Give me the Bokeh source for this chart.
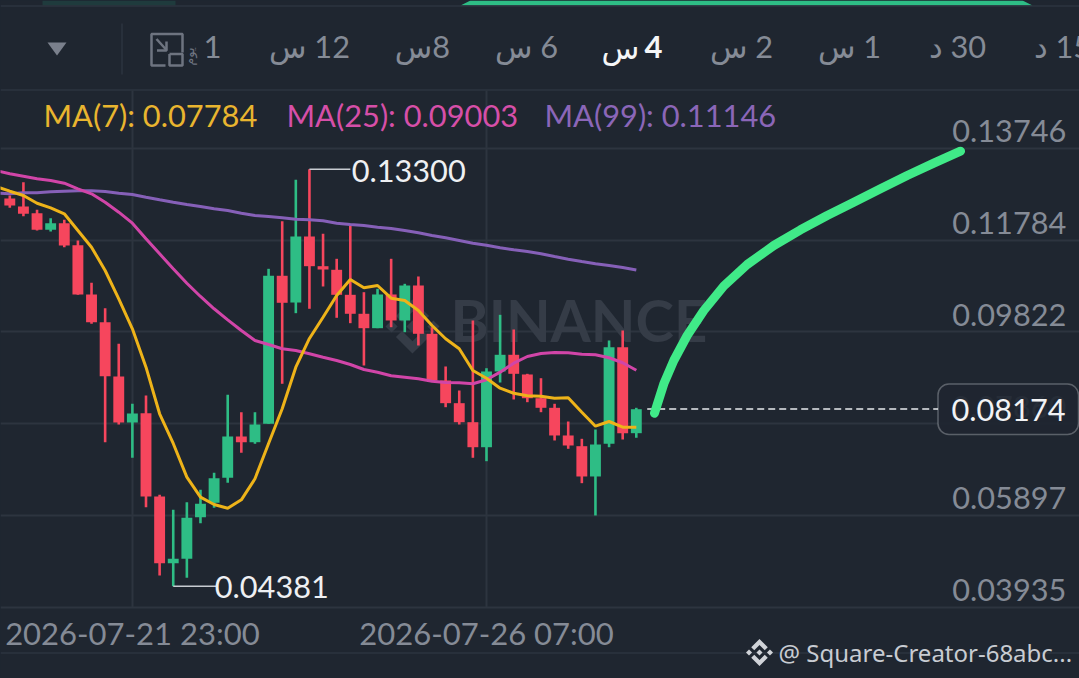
from math import pi
from bokeh.plotting import figure
from bokeh.embed import file_html
from bokeh.resources import INLINE
from bokeh.core.properties import value
from bokeh.models import (LinearAxis, FixedTicker, Grid, Range1d, BoxAnnotation,
                          NumeralTickFormatter, GlobalInlineStyleSheet)

# 4h candles (index 9 = 2026-07-21 23:00, index 35 = 2026-07-26 07:00)
opens = [.12677,.12506,.12363,.12008,.12149,.11678,.10624,.10031,.08870,.07886,.08085,.06303,.04876,.04970,.05860,.06168,.06703,.07586,.07464,.07858,.11024,.10452,.11864,.11229,
         .11152,.10617,.10211,.09903,.10624,.10068,.10816,.09783,.08784,.08299,.07892,.07357,.08977,.09334,.08913,.08405,.08200,.07608,.07379,.06731,.07430,.09496,.07657]
highs = [.12741,.13026,.12435,.12256,.12221,.11779,.10874,.10331,.09569,.08286,.08463,.06339,.06019,.06181,.06446,.06810,.08478,.08106,.08106,.11173,.12191,.13077,.13300,.11922,
         .11387,.12099,.10673,.10745,.11387,.10852,.11009,.09924,.09084,.08570,.10068,.09047,.10189,.09875,.08927,.08833,.08286,.07907,.07537,.07736,.09640,.09854,.08200]
lows = [.12478,.12298,.11993,.11971,.11635,.10620,.09997,.07464,.07843,.07131,.06074,.04613,.04381,.04564,.05732,.06061,.06596,.07238,.07430,.07858,.08714,.10224,.10318,.10795,
        .10125,.10010,.09105,.09903,.09924,.09817,.09533,.08784,.08213,.07843,.07131,.07058,.08741,.08378,.08320,.08106,.07501,.07323,.06588,.05897,.07357,.07522,.07559]
closes = [.12527,.12350,.12008,.12149,.11672,.10624,.10031,.08876,.07886,.08078,.06303,.04876,.04970,.05847,.06147,.06694,.07586,.07464,.07843,.11024,.10446,.11864,.11229,.11158,
          .10617,.10211,.09903,.10624,.10068,.10816,.09783,.08784,.08299,.07892,.07357,.08977,.09334,.08927,.08405,.08200,.07608,.07394,.06731,.07415,.09496,.07657,.08170]

# moving averages, first value is one candle before the first visible candle
ma7 = [.12934,.12833,.12741,.12576,.12478,.12350,.11993,.11635,.11137,.10532,.09890,.09069,.08072,.07437,.06716,.06288,.06132,.06053,.06232,.06682,.07437,.08179,.09069,.09683,.10138,
       .10602,.10944,.10767,.10816,.10544,.10495,.10281,.09961,.09676,.09462,.08998,.08833,.08619,.08512,.08457,.08448,.08405,.08414,.08106,.07807,.07907,.07785,.07784]
ma25 = [.13276,.13205,.13154,.13098,.13062,.13004,.12884,.12777,.12598,.12384,.12149,.11815,.11494,.11173,.10865,.10581,.10318,.10082,.09854,.09640,.09554,.09462,.09426,.09355,.09282,
        .09212,.09126,.09019,.08962,.08885,.08855,.08820,.08769,.08741,.08735,.08714,.08799,.08962,.09154,.09298,.09362,.09383,.09377,.09347,.09334,.09270,.09163,.09003]
ma99 = [.12795,.12777,.12799,.12799,.12820,.12833,.12842,.12842,.12827,.12790,.12763,.12705,.12649,.12598,.12549,.12506,.12457,.12420,.12363,.12313,.12292,.12264,.12234,.12221,.12200,
        .12149,.12121,.12099,.12063,.12035,.11993,.11943,.11886,.11836,.11779,.11721,.11678,.11622,.11580,.11543,.11494,.11436,.11379,.11329,.11280,.11244,.11201,.11146]

price_ticks = [0.03935, 0.05897, 0.07860, 0.09822, 0.11784, 0.13746]
date_ticks = {9: "2026-07-21 23:00", 35: "2026-07-26 07:00"}
last_price = 0.08174
hi_price, hi_idx = 0.13300, 22
lo_price, lo_idx = 0.04381, 12
legend = [("MA(7): 0.07784", 43, "#e9b52f"), ("MA(25): 0.09003", 286, "#d64fa8"), ("MA(99): 0.11146", 544, "#8b66b8")]
tabs = [("س\u200e 12", 309), ("س\u200e8", 422), ("س\u200e 6", 526), ("س\u200e 2", 741), ("س\u200e 1", 849), ("د\u200e 30", 957), ("د\u200e 15", 1062)]
arrow_x = [654, 663.3, 673.3, 686.7, 703.3, 723.3, 746.7, 773.3, 800, 826.7, 853.3, 880, 906.7, 933.3, 960]
arrow_y = [412.7, 383.3, 360, 335, 310, 285.5, 264, 245, 229.3, 215, 201.7, 188.3, 175, 162.7, 150.7]

BG = "#1f2630"
GRID = "#2d343f"
RED = "#f6465d"
GREEN = "#2ebd85"
LABEL = "#858b96"
FONT = "Lato, 'DejaVu Sans'"

# scale: 1 candle = 13.62 px, first candle at 9.3 px; 1 px = 0.00021389 in price
p = figure(width=1079, height=678, output_backend="svg", toolbar_location=None,
           x_axis_location=None, y_axis_location=None, min_border=0,
           x_range=Range1d(-0.683, 78.54), y_range=Range1d(0.02410, 0.16912),
           background_fill_color=BG, border_fill_color=BG, outline_line_color=None)
p.stylesheets = [GlobalInlineStyleSheet(css=f"html,body{{margin:0;background:{BG};overflow:hidden}}")]
p.grid.visible = False
p.extra_x_ranges["px"] = Range1d(0, 1079)
p.extra_y_ranges["px"] = Range1d(678, 0)
p.extra_y_ranges["lab"] = Range1d(0.02046, 0.16548)
PX = dict(x_range_name="px", y_range_name="px")

# grid and axes
p.add_layout(Grid(dimension=1, ticker=FixedTicker(ticks=price_ticks), grid_line_color=GRID, grid_line_width=2))
xa = LinearAxis(fixed_location=price_ticks[0], ticker=FixedTicker(ticks=list(date_ticks)),
                major_label_overrides=date_ticks, major_tick_in=517, major_tick_out=0,
                major_tick_line_color=GRID, major_tick_line_width=2, axis_line_color=None,
                minor_tick_line_color=None, major_label_standoff=7,
                major_label_text_font=FONT, major_label_text_font_size="31px",
                major_label_text_color=LABEL, major_label_text_font_style="normal")
xa.level = "underlay"
p.add_layout(xa, "below")
ya = LinearAxis(fixed_location=69.2, y_range_name="lab", ticker=FixedTicker(ticks=price_ticks),
                formatter=NumeralTickFormatter(format="0.00000"), major_tick_in=0, major_tick_out=0,
                axis_line_color=None, minor_tick_line_color=None, major_label_standoff=0,
                major_label_text_font=FONT, major_label_text_font_size="30.7px",
                major_label_text_color=LABEL)
p.add_layout(ya, "right")


def logo(cx, cy, size, color):
    s = size / 32
    parts = [[(9.8, 13.4), (16, 7.2), (22.2, 13.4), (25.8, 9.8), (16, 0), (6.2, 9.8)],
             [(0, 16), (3.6, 12.4), (7.2, 16), (3.6, 19.6)],
             [(12.4, 16), (16, 12.4), (19.6, 16), (16, 19.6)],
             [(24.8, 16), (28.4, 12.4), (32, 16), (28.4, 19.6)],
             [(22.2, 18.6), (16, 24.8), (9.8, 18.6), (6.2, 22.2), (16, 32), (25.8, 22.2)]]
    p.patches([[cx + (a - 16) * s for a, _ in q] for q in parts],
              [[cy + (b - 16) * s for _, b in q] for q in parts],
              fill_color=color, line_color=None, **PX)


def ptext(x, y, txt, size, color, align="left", font=FONT, style="normal", angle=0, level="glyph"):
    p.text([x], [y], text=[txt], text_font=value(font), text_font_size=f"{size}px", text_color=color,
           text_align=align, text_baseline="middle", text_font_style=style, angle=angle, level=level, **PX)


# watermark
logo(412, 326, 54, "#353c47")
ptext(450, 319, "BINANCE", 58, "#353c47", style="bold")

# candles
xs = list(range(len(opens)))
colors = [GREEN if c >= o else RED for o, c in zip(opens, closes)]
p.segment(xs, lows, xs, highs, line_color=colors, line_width=2.6)
p.vbar(x=xs, bottom=[min(o, c) for o, c in zip(opens, closes)], top=[max(o, c) for o, c in zip(opens, closes)],
       width=0.8, fill_color=colors, line_color=None)

# moving averages
mx = list(range(-1, len(opens)))
p.line(mx, ma99, line_color="#8660b8", line_width=3)
p.line(mx, ma25, line_color="#d145a8", line_width=3)
p.line(mx, ma7, line_color="#eeb319", line_width=3)

# high / low markers
p.segment([hi_idx], [hi_price], [hi_idx + 3], [hi_price], line_color="#c8ccd2", line_width=1.5)
p.text([hi_idx + 3.1], [hi_price], text=[f"{hi_price:.5f}"], text_font=value(FONT), text_font_size="30.7px",
       text_color="#eef0f3", text_baseline="middle", y_offset=2)
p.segment([lo_idx], [lo_price], [lo_idx + 3.15], [lo_price], line_color="#c8ccd2", line_width=1.5)
p.text([lo_idx + 3.05], [lo_price], text=[f"{lo_price:.5f}"], text_font=value(FONT), text_font_size="30.7px",
       text_color="#eef0f3", text_baseline="middle", y_offset=1)

# last price line and box
p.segment([46.8], [last_price], [68.2], [last_price], line_color="#e8eaed", line_width=1.5, line_dash="7 4")
p.add_layout(BoxAnnotation(left=937.5, right=1078, top=383.5, bottom=434, x_range_name="px", y_range_name="px",
                           fill_color=BG, fill_alpha=0.93, line_color="#e8eaed", line_width=1.5, border_radius=11))
ptext(1008, 409.5, f"{last_price:.5f}", 30.7, "#f2f3f5", align="center", level="overlay")

# hand-drawn arrow
p.line(arrow_x, arrow_y, line_color="#40ea88", line_width=9, line_cap="round", line_join="round", **PX)

# top strip and toolbar
p.patches([[42, 42, 175, 175], [460, 470, 1022, 1032]], [[0, 5, 5, 0], [5, 0, 0, 5]],
          fill_color=["#1f3b3d", GREEN], line_color=None, **PX)
p.multi_line([[0, 1079], [0, 1079], [0, 1079], [121.5, 121.5]], [[5.5, 5.5], [89.5, 89.5], [652.5, 652.5], [23, 74]],
             line_color=GRID, line_width=1.5, **PX)
p.patch([47, 66, 56.5], [42, 42, 55], fill_color="#7a808c", line_color=None, **PX)
p.multi_line([[182, 182, 151, 151, 165], [169, 182, 182, 169, 169], [156, 166], [156.5, 166, 166]],
             [[52, 33.5, 33.5, 65, 65], [53.5, 53.5, 65, 65, 53.5], [38.5, 49.5], [50, 50, 41]],
             line_color="#6e7480", line_width=2.5, **PX)
ptext(188, 56, "يوم", 13, "#6e7480", align="center", angle=pi / 2)
ptext(212, 46, "1", 31, "#858b96", align="center")
for txt, cx in tabs:
    ptext(cx, 46, txt, 30.7, "#858b96", align="center")
ptext(620, 46, "س", 31, "#f5f6f7", align="center")
ptext(653, 46, "4", 31, "#f5f6f7", align="center", style="bold")

# legend
for txt, x0, col in legend:
    ptext(x0, 114.5, txt, 30.8, col)

# creator tag
logo(759, 652, 27, "#d0d3d8")
ptext(778, 652, "@ Square-Creator-68abc...", 24, "#c8ccd2", font="Noto Sans")

open("out.html", "w").write(file_html(p, INLINE))
